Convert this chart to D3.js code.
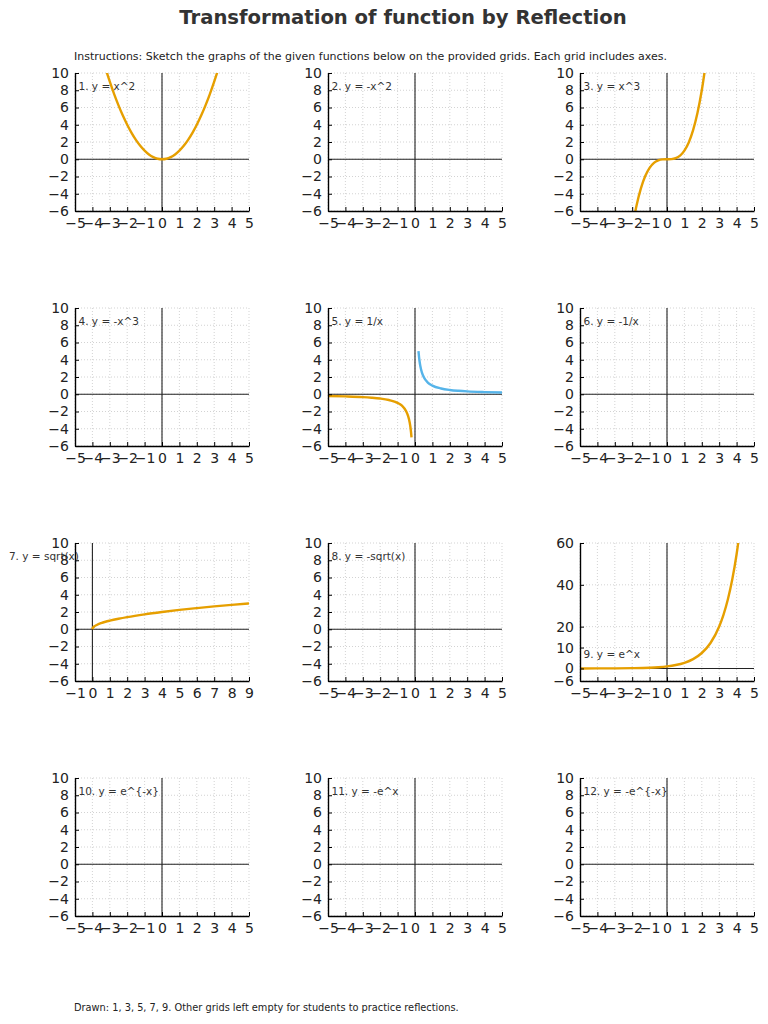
<!DOCTYPE html>
<html>
<head>
<meta charset="utf-8">
<script src="https://cdn.jsdelivr.net/npm/d3@7"></script>
<style>
  body { margin: 0; background: #fff; }
  svg { font-family: "DejaVu Sans", sans-serif; }
</style>
</head>
<body>
<svg id="sheet" width="768" height="1024"></svg>
<script>
// panel titles, in reading order
const panelLabels = [
  "1. y = x^2", "2. y = -x^2", "3. y = x^3",
  "4. y = -x^3", "5. y = 1/x", "6. y = -1/x",
  "7. y = sqrt(x)", "8. y = -sqrt(x)", "9. y = e^x",
  "10. y = e^{-x}", "11. y = -e^x", "12. y = -e^{-x}"
];

const stdXTicks = [-5, -4, -3, -2, -1, 0, 1, 2, 3, 4, 5];
const stdYTicks = [-6, -4, -2, 0, 2, 4, 6, 8, 10];
const sqrtXTicks = [-1, 0, 1, 2, 3, 4, 5, 6, 7, 8, 9];
const expYTicks = [-6, 0, 10, 20, 40, 60];

// 1. y = x^2
const squareX = [-3.5, -3.25, -3, -2.75, -2.5, -2.25, -2, -1.75, -1.5, -1.25, -1, -0.75, -0.5, -0.25, 0,
                 0.25, 0.5, 0.75, 1, 1.25, 1.5, 1.75, 2, 2.25, 2.5, 2.75, 3, 3.25, 3.5];
const squareY = [12.25, 10.56, 9, 7.56, 6.25, 5.06, 4, 3.06, 2.25, 1.56, 1, 0.56, 0.25, 0.06, 0,
                 0.06, 0.25, 0.56, 1, 1.56, 2.25, 3.06, 4, 5.06, 6.25, 7.56, 9, 10.56, 12.25];

// 3. y = x^3
const cubeX = [-2, -1.75, -1.5, -1.25, -1, -0.75, -0.5, -0.25, 0, 0.25, 0.5, 0.75, 1, 1.25, 1.5, 1.75, 2, 2.25];
const cubeY = [-8, -5.36, -3.38, -1.95, -1, -0.42, -0.13, -0.02, 0, 0.02, 0.13, 0.42, 1, 1.95, 3.38, 5.36, 8, 11.39];

// 5. y = 1/x, two branches
const recipNegX = [-5, -4, -3, -2.5, -2, -1.5, -1, -0.75, -0.5, -0.4, -0.3, -0.25, -0.2];
const recipNegY = [-0.2, -0.25, -0.33, -0.4, -0.5, -0.67, -1, -1.33, -2, -2.5, -3.33, -4, -5];
const recipPosX = [0.2, 0.25, 0.3, 0.4, 0.5, 0.75, 1, 1.5, 2, 2.5, 3, 4, 5];
const recipPosY = [5, 4, 3.33, 2.5, 2, 1.33, 1, 0.67, 0.5, 0.4, 0.33, 0.25, 0.2];

// 7. y = sqrt(x)
const sqrtX = [0, 0.02, 0.05, 0.1, 0.25, 0.5, 0.75, 1, 1.5, 2, 3, 4, 5, 6, 7, 8, 9];
const sqrtY = [0, 0.14, 0.22, 0.32, 0.5, 0.71, 0.87, 1, 1.22, 1.41, 1.73, 2, 2.24, 2.45, 2.65, 2.83, 3];

// 9. y = e^x
const expX = [-5, -4, -3, -2, -1, -0.5, 0, 0.5, 1, 1.5, 2, 2.5, 3, 3.25, 3.5, 3.75, 4, 4.25];
const expY = [0.01, 0.02, 0.05, 0.14, 0.37, 0.61, 1, 1.65, 2.72, 4.48, 7.39, 12.18, 20.09, 25.79, 33.12, 42.52, 54.6, 70.1];

const orange = "#E69F00";
const blue = "#56B4E9";

const curves = [
  { panel: 0, xs: squareX, ys: squareY, color: orange },
  { panel: 2, xs: cubeX, ys: cubeY, color: orange },
  { panel: 4, xs: recipNegX, ys: recipNegY, color: orange },
  { panel: 4, xs: recipPosX, ys: recipPosY, color: blue },
  { panel: 6, xs: sqrtX, ys: sqrtY, color: orange },
  { panel: 8, xs: expX, ys: expY, color: orange }
];

const svg = d3.select("#sheet");
const plotW = 174, plotH = 138;
const colLeft = [75, 328, 580];
const rowTop = [73, 308, 543, 778];

svg.append("text")
  .attr("x", 403).attr("y", 24)
  .attr("text-anchor", "middle")
  .attr("font-size", 19.6).attr("font-weight", "bold")
  .attr("fill", "#333")
  .text("Transformation of function by Reflection");

svg.append("text")
  .attr("x", 74).attr("y", 60)
  .attr("font-size", 11).attr("fill", "#222")
  .text("Instructions: Sketch the graphs of the given functions below on the provided grids. Each grid includes axes.");

svg.append("text")
  .attr("x", 74).attr("y", 1011)
  .attr("font-size", 9.8).attr("fill", "#222")
  .text("Drawn: 1, 3, 5, 7, 9. Other grids left empty for students to practice reflections.");

panelLabels.forEach((label, i) => {
  const col = i % 3, row = Math.floor(i / 3);
  const isSqrt = i === 6, isExp = i === 8;
  const xDomain = isSqrt ? [-1, 9] : [-5, 5];
  const yDomain = isExp ? [-6, 60] : [-6, 10];
  const xTicks = isSqrt ? sqrtXTicks : stdXTicks;
  const yTicks = isExp ? expYTicks : stdYTicks;

  const x = d3.scaleLinear().domain(xDomain).range([0, plotW]);
  const y = d3.scaleLinear().domain(yDomain).range([plotH, 0]);

  const g = svg.append("g")
    .attr("transform", `translate(${colLeft[col]},${rowTop[row]})`);

  // dotted grid
  g.append("g").selectAll("line.vx")
    .data(xTicks).enter().append("line")
    .attr("x1", d => x(d)).attr("x2", d => x(d))
    .attr("y1", 0).attr("y2", plotH)
    .attr("stroke", "#c8c8c8").attr("stroke-width", 0.8)
    .attr("stroke-dasharray", "1,2");
  g.append("g").selectAll("line.hy")
    .data(yTicks).enter().append("line")
    .attr("x1", 0).attr("x2", plotW)
    .attr("y1", d => y(d)).attr("y2", d => y(d))
    .attr("stroke", "#c8c8c8").attr("stroke-width", 0.8)
    .attr("stroke-dasharray", "1,2");

  // coordinate axes through the origin
  g.append("line")
    .attr("x1", 0).attr("x2", plotW)
    .attr("y1", y(0)).attr("y2", y(0))
    .attr("stroke", "#222").attr("stroke-width", 1.1);
  g.append("line")
    .attr("x1", x(0)).attr("x2", x(0))
    .attr("y1", 0).attr("y2", plotH)
    .attr("stroke", "#222").attr("stroke-width", 1.1);

  const clipId = "clip" + i;
  g.append("clipPath").attr("id", clipId)
    .append("rect").attr("width", plotW).attr("height", plotH);

  const line = d3.line()
    .x(d => x(d[0])).y(d => y(d[1]))
    .curve(d3.curveMonotoneX);

  curves.filter(c => c.panel === i).forEach(c => {
    g.append("path")
      .datum(d3.zip(c.xs, c.ys))
      .attr("clip-path", `url(#${clipId})`)
      .attr("fill", "none")
      .attr("stroke", c.color)
      .attr("stroke-width", 2.4)
      .attr("d", line);
  });

  // axes (ticks point inward)
  const gx = g.append("g")
    .attr("transform", `translate(0,${plotH})`)
    .call(d3.axisBottom(x).tickValues(xTicks).tickSizeInner(-4).tickSizeOuter(0).tickPadding(7));
  const gy = g.append("g")
    .call(d3.axisLeft(y).tickValues(yTicks).tickSizeInner(-4).tickSizeOuter(0).tickPadding(6));
  [gx, gy].forEach(ax => {
    ax.attr("font-family", null).attr("font-size", 14);
    ax.select(".domain").attr("stroke", "#000").attr("stroke-width", 1.4);
    ax.selectAll(".tick line").attr("stroke", "#000").attr("stroke-width", 1);
    ax.selectAll(".tick text").attr("fill", "#222");
  });

  // label sits at data x = -4.8 in every panel, as in the original sheet
  g.append("text")
    .attr("x", x(-4.8))
    .attr("y", y(9))
    .attr("dy", "0.78em")
    .attr("font-size", 10.5).attr("fill", "#333")
    .text(label);
});
</script>
</body>
</html>
